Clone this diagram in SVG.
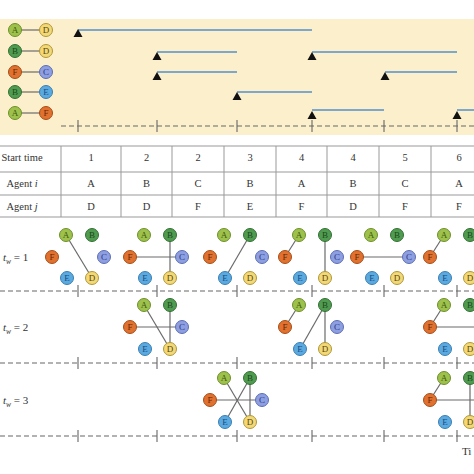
<svg xmlns="http://www.w3.org/2000/svg" width="474" height="474" viewBox="0 0 474 474">
<style>
text{font-family:"Liberation Serif","DejaVu Serif",serif;fill:#333}
.lbl{font-size:10.5px;text-anchor:middle}
.nl{font-size:9px;text-anchor:middle}
.A{fill:#9dc14b;stroke:#6e8f2c}
.B{fill:#4f9b4f;stroke:#347034}
.C{fill:#8d9fe0;stroke:#5c6eb6}
.D{fill:#f2d877;stroke:#b09636}
.E{fill:#5aaadf;stroke:#3a7fb4}
.F{fill:#e0712f;stroke:#a64d18}
.tA{fill:#3c5810}.tB{fill:#1d481d}.tC{fill:#28388a}.tD{fill:#5a4810}.tE{fill:#194a82}.tF{fill:#6a2806}
circle{stroke-width:1}
.edge{stroke:#6a6a6a;stroke-width:1.2;fill:none}
.iv{stroke:#7fa7c9;stroke-width:2;fill:none}
.ax{stroke:#666;stroke-width:1.1;stroke-dasharray:5 3;fill:none}
.tk{stroke:#666;stroke-width:1.1}
.tb{stroke:#999;stroke-width:1}
.tri{fill:#111}
</style>
<defs>
<g id="nA"><circle r="6.5" class="A"/><text class="nl tA" y="3.2">A</text></g>
<g id="nB"><circle r="6.5" class="B"/><text class="nl tB" y="3.2">B</text></g>
<g id="nC"><circle r="6.5" class="C"/><text class="nl tC" y="3.2">C</text></g>
<g id="nD"><circle r="6.5" class="D"/><text class="nl tD" y="3.2">D</text></g>
<g id="nE"><circle r="6.5" class="E"/><text class="nl tE" y="3.2">E</text></g>
<g id="nF"><circle r="6.5" class="F"/><text class="nl tF" y="3.2">F</text></g>
<path id="tri" d="M0,0 L4.5,8 L-4.5,8 Z" class="tri"/>
</defs>

<!-- top panel -->
<rect x="0" y="19" width="474" height="116" fill="#fcf0cc"/>

<g id="legend">
<g class="edge">
<line x1="15" y1="30" x2="46" y2="30"/>
<line x1="15" y1="51" x2="46" y2="51"/>
<line x1="15" y1="72" x2="46" y2="72"/>
<line x1="15" y1="92" x2="46" y2="92"/>
<line x1="15" y1="113" x2="46" y2="113"/>
</g>
<g id="leg1-A"><use href="#nA" x="15" y="30"/></g><g id="leg1-D"><use href="#nD" x="46" y="30"/></g>
<g id="leg2-B"><use href="#nB" x="15" y="51"/></g><g id="leg2-D"><use href="#nD" x="46" y="51"/></g>
<g id="leg3-F"><use href="#nF" x="15" y="72"/></g><g id="leg3-C"><use href="#nC" x="46" y="72"/></g>
<g id="leg4-B"><use href="#nB" x="15" y="92"/></g><g id="leg4-E"><use href="#nE" x="46" y="92"/></g>
<g id="leg5-A"><use href="#nA" x="15" y="113"/></g><g id="leg5-F"><use href="#nF" x="46" y="113"/></g>
</g>

<g id="intervals">
<line class="iv" x1="78" y1="30" x2="312" y2="30"/><use href="#tri" x="78" y="29"/>
<line class="iv" x1="157" y1="52" x2="237" y2="52"/><use href="#tri" x="157" y="52"/>
<line class="iv" x1="312" y1="52" x2="457" y2="52"/><use href="#tri" x="312" y="52"/>
<line class="iv" x1="157" y1="72" x2="237" y2="72"/><use href="#tri" x="157" y="72"/>
<line class="iv" x1="385" y1="72" x2="457" y2="72"/><use href="#tri" x="385" y="72"/>
<line class="iv" x1="237" y1="92" x2="312" y2="92"/><use href="#tri" x="237" y="92"/>
<line class="iv" x1="312" y1="110" x2="384" y2="110"/><use href="#tri" x="312" y="111"/>
<line class="iv" x1="457" y1="110" x2="474" y2="110"/><use href="#tri" x="457" y="111"/>
</g>

<g id="axes">
<line class="ax" x1="61" y1="126" x2="474" y2="126"/>
<line class="ax" x1="0" y1="291" x2="474" y2="291"/>
<line class="ax" x1="0" y1="363" x2="474" y2="363"/>
<line class="ax" x1="0" y1="436" x2="474" y2="436"/>
<g class="tk">
<line x1="78" y1="120" x2="78" y2="132"/><line x1="157" y1="120" x2="157" y2="132"/><line x1="237" y1="120" x2="237" y2="132"/><line x1="312" y1="120" x2="312" y2="132"/><line x1="384" y1="120" x2="384" y2="132"/><line x1="457" y1="120" x2="457" y2="132"/>
<line x1="78" y1="285" x2="78" y2="297"/><line x1="157" y1="285" x2="157" y2="297"/><line x1="237" y1="285" x2="237" y2="297"/><line x1="312" y1="285" x2="312" y2="297"/><line x1="384" y1="285" x2="384" y2="297"/><line x1="457" y1="285" x2="457" y2="297"/>
<line x1="78" y1="357" x2="78" y2="369"/><line x1="157" y1="357" x2="157" y2="369"/><line x1="237" y1="357" x2="237" y2="369"/><line x1="312" y1="357" x2="312" y2="369"/><line x1="384" y1="357" x2="384" y2="369"/><line x1="457" y1="357" x2="457" y2="369"/>
<line x1="78" y1="430" x2="78" y2="442"/><line x1="157" y1="430" x2="157" y2="442"/><line x1="237" y1="430" x2="237" y2="442"/><line x1="312" y1="430" x2="312" y2="442"/><line x1="384" y1="430" x2="384" y2="442"/><line x1="457" y1="430" x2="457" y2="442"/>
</g>
</g>

<!-- table -->
<g id="table">
<g class="tb">
<line x1="0" y1="146" x2="474" y2="146"/><line x1="0" y1="172" x2="474" y2="172"/><line x1="0" y1="195" x2="474" y2="195"/><line x1="0" y1="217" x2="474" y2="217"/>
<line x1="61" y1="146" x2="61" y2="217"/><line x1="121" y1="146" x2="121" y2="217"/><line x1="172" y1="146" x2="172" y2="217"/><line x1="224" y1="146" x2="224" y2="217"/><line x1="276" y1="146" x2="276" y2="217"/><line x1="327" y1="146" x2="327" y2="217"/><line x1="379" y1="146" x2="379" y2="217"/><line x1="431" y1="146" x2="431" y2="217"/>
</g>
<text class="lbl" x="22" y="161">Start time</text>
<text class="lbl" x="22" y="187">Agent <tspan font-style="italic">i</tspan></text>
<text class="lbl" x="22" y="210">Agent <tspan font-style="italic">j</tspan></text>
<text class="lbl" x="91" y="161">1</text><text class="lbl" x="146.5" y="161">2</text><text class="lbl" x="198" y="161">2</text><text class="lbl" x="250" y="161">3</text><text class="lbl" x="301.5" y="161">4</text><text class="lbl" x="353" y="161">4</text><text class="lbl" x="405" y="161">5</text><text class="lbl" x="459" y="161">6</text>
<text class="lbl" x="91" y="187">A</text><text class="lbl" x="146.5" y="187">B</text><text class="lbl" x="198" y="187">C</text><text class="lbl" x="250" y="187">B</text><text class="lbl" x="301.5" y="187">A</text><text class="lbl" x="353" y="187">B</text><text class="lbl" x="405" y="187">C</text><text class="lbl" x="459" y="187">A</text>
<text class="lbl" x="91" y="210">D</text><text class="lbl" x="146.5" y="210">D</text><text class="lbl" x="198" y="210">F</text><text class="lbl" x="250" y="210">E</text><text class="lbl" x="301.5" y="210">F</text><text class="lbl" x="353" y="210">D</text><text class="lbl" x="405" y="210">F</text><text class="lbl" x="459" y="210">F</text>
</g>

<!-- row labels -->
<text x="3" y="261" font-size="11" font-style="italic">t<tspan font-size="7.5" dy="2.5">w</tspan><tspan font-style="normal" dy="-2.5"> = 1</tspan></text>
<text x="3" y="331" font-size="11" font-style="italic">t<tspan font-size="7.5" dy="2.5">w</tspan><tspan font-style="normal" dy="-2.5"> = 2</tspan></text>
<text x="3" y="404" font-size="11" font-style="italic">t<tspan font-size="7.5" dy="2.5">w</tspan><tspan font-style="normal" dy="-2.5"> = 3</tspan></text>
<text x="462" y="455" font-size="11">Ti</text>

<!-- connectors -->
<g id="connectors" class="edge">
<!-- tw=1 -->
<line x1="66" y1="235" x2="92" y2="278"/>
<line x1="130" y1="257" x2="182" y2="257"/><line x1="170" y1="235" x2="170" y2="278"/>
<line x1="250" y1="235" x2="225" y2="278"/>
<line x1="299" y1="235" x2="285" y2="257"/><line x1="325" y1="235" x2="325" y2="278"/>
<line x1="357" y1="257" x2="409" y2="257"/>
<line x1="444" y1="235" x2="430" y2="257"/>
<!-- tw=2 -->
<line x1="144" y1="305" x2="170" y2="349"/><line x1="170" y1="305" x2="170" y2="349"/><line x1="130" y1="327" x2="182" y2="327"/>
<line x1="299" y1="305" x2="285" y2="327"/><line x1="325" y1="305" x2="300" y2="349"/><line x1="325" y1="305" x2="325" y2="349"/>
<line x1="444" y1="305" x2="430" y2="327"/><line x1="430" y1="327" x2="482" y2="327"/>
<!-- tw=3 -->
<line x1="224" y1="378" x2="250" y2="422"/><line x1="250" y1="378" x2="250" y2="422"/><line x1="210" y1="400" x2="262" y2="400"/><line x1="250" y1="378" x2="225" y2="422"/>
<line x1="444" y1="378" x2="430" y2="400"/><line x1="430" y1="400" x2="482" y2="400"/><line x1="470" y1="378" x2="470" y2="422"/>
</g>

<!-- nodes tw=1 -->
<g id="g11"><g id="g11-A"><use href="#nA" x="66" y="235"/></g><g id="g11-B"><use href="#nB" x="92" y="235"/></g><g id="g11-F"><use href="#nF" x="52" y="257"/></g><g id="g11-C"><use href="#nC" x="104" y="257"/></g><g id="g11-E"><use href="#nE" x="67" y="278"/></g><g id="g11-D"><use href="#nD" x="92" y="278"/></g></g>
<g id="g12"><g id="g12-A"><use href="#nA" x="144" y="235"/></g><g id="g12-B"><use href="#nB" x="170" y="235"/></g><g id="g12-F"><use href="#nF" x="130" y="257"/></g><g id="g12-C"><use href="#nC" x="182" y="257"/></g><g id="g12-E"><use href="#nE" x="145" y="278"/></g><g id="g12-D"><use href="#nD" x="170" y="278"/></g></g>
<g id="g13"><g id="g13-A"><use href="#nA" x="224" y="235"/></g><g id="g13-B"><use href="#nB" x="250" y="235"/></g><g id="g13-F"><use href="#nF" x="210" y="257"/></g><g id="g13-C"><use href="#nC" x="262" y="257"/></g><g id="g13-E"><use href="#nE" x="225" y="278"/></g><g id="g13-D"><use href="#nD" x="250" y="278"/></g></g>
<g id="g14"><g id="g14-A"><use href="#nA" x="299" y="235"/></g><g id="g14-B"><use href="#nB" x="325" y="235"/></g><g id="g14-F"><use href="#nF" x="285" y="257"/></g><g id="g14-C"><use href="#nC" x="337" y="257"/></g><g id="g14-E"><use href="#nE" x="300" y="278"/></g><g id="g14-D"><use href="#nD" x="325" y="278"/></g></g>
<g id="g15"><g id="g15-A"><use href="#nA" x="371" y="235"/></g><g id="g15-B"><use href="#nB" x="397" y="235"/></g><g id="g15-F"><use href="#nF" x="357" y="257"/></g><g id="g15-C"><use href="#nC" x="409" y="257"/></g><g id="g15-E"><use href="#nE" x="372" y="278"/></g><g id="g15-D"><use href="#nD" x="397" y="278"/></g></g>
<g id="g16"><g id="g16-A"><use href="#nA" x="444" y="235"/></g><g id="g16-B"><use href="#nB" x="470" y="235"/></g><g id="g16-F"><use href="#nF" x="430" y="257"/></g><g id="g16-C"><use href="#nC" x="482" y="257"/></g><g id="g16-E"><use href="#nE" x="445" y="278"/></g><g id="g16-D"><use href="#nD" x="470" y="278"/></g></g>

<!-- nodes tw=2 -->
<g id="g22"><g id="g22-A"><use href="#nA" x="144" y="305"/></g><g id="g22-B"><use href="#nB" x="170" y="305"/></g><g id="g22-F"><use href="#nF" x="130" y="327"/></g><g id="g22-C"><use href="#nC" x="182" y="327"/></g><g id="g22-E"><use href="#nE" x="145" y="349"/></g><g id="g22-D"><use href="#nD" x="170" y="349"/></g></g>
<g id="g24"><g id="g24-A"><use href="#nA" x="299" y="305"/></g><g id="g24-B"><use href="#nB" x="325" y="305"/></g><g id="g24-F"><use href="#nF" x="285" y="327"/></g><g id="g24-C"><use href="#nC" x="337" y="327"/></g><g id="g24-E"><use href="#nE" x="300" y="349"/></g><g id="g24-D"><use href="#nD" x="325" y="349"/></g></g>
<g id="g26"><g id="g26-A"><use href="#nA" x="444" y="305"/></g><g id="g26-B"><use href="#nB" x="470" y="305"/></g><g id="g26-F"><use href="#nF" x="430" y="327"/></g><g id="g26-C"><use href="#nC" x="482" y="327"/></g><g id="g26-E"><use href="#nE" x="445" y="349"/></g><g id="g26-D"><use href="#nD" x="470" y="349"/></g></g>

<!-- nodes tw=3 -->
<g id="g33"><g id="g33-A"><use href="#nA" x="224" y="378"/></g><g id="g33-B"><use href="#nB" x="250" y="378"/></g><g id="g33-F"><use href="#nF" x="210" y="400"/></g><g id="g33-C"><use href="#nC" x="262" y="400"/></g><g id="g33-E"><use href="#nE" x="225" y="422"/></g><g id="g33-D"><use href="#nD" x="250" y="422"/></g></g>
<g id="g36"><g id="g36-A"><use href="#nA" x="444" y="378"/></g><g id="g36-B"><use href="#nB" x="470" y="378"/></g><g id="g36-F"><use href="#nF" x="430" y="400"/></g><g id="g36-C"><use href="#nC" x="482" y="400"/></g><g id="g36-E"><use href="#nE" x="445" y="422"/></g><g id="g36-D"><use href="#nD" x="470" y="422"/></g></g>
</svg>
